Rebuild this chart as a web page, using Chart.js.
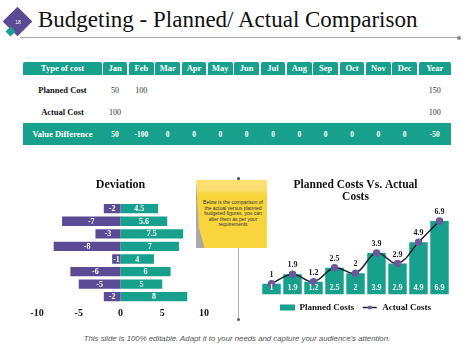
<!DOCTYPE html>
<html><head><meta charset="utf-8">
<script src="https://cdn.jsdelivr.net/npm/chart.js@4.4.1/dist/chart.umd.min.js"></script>
<style>
html,body{margin:0;padding:0;background:#fff;}
body{width:474px;height:355px;position:relative;overflow:hidden;font-family:"Liberation Serif",serif;}
.abs{position:absolute;}
.hc{position:absolute;top:62px;height:13px;line-height:13px;background:#17a08b;color:#fff;font-weight:bold;font-size:8.5px;text-align:center;border-radius:2px 2px 0 0;}
.cell{position:absolute;text-align:center;font-size:8px;color:#333;}
.lab{position:absolute;text-align:center;font-size:8.5px;font-weight:bold;color:#111;}
.wcell{position:absolute;text-align:center;font-size:7.5px;color:#fff;font-weight:bold;}
</style></head><body>

<div class="abs" style="left:7px;top:11px;width:21px;height:21px;background:#5b4a94;transform:rotate(45deg);"></div>
<div class="abs" style="left:7px;top:28px;width:7px;height:7px;background:#17a08b;transform:rotate(45deg);"></div>
<div class="abs" style="left:10px;top:19px;width:16px;text-align:center;font-family:'Liberation Sans',sans-serif;font-size:5px;color:#fff;">18</div>
<div class="abs" style="left:38px;top:8px;font-size:23px;line-height:23px;color:#111;white-space:nowrap;" id="ttl">Budgeting - Planned/ Actual Comparison</div>
<div class="abs" style="left:20px;top:37px;width:439px;height:1px;background:#a5a5a5;"></div>
<div class="abs" style="left:457px;top:35.5px;width:4px;height:4px;border-radius:50%;background:#888;"></div>

<div id="table"></div>

<div class="abs" style="left:238px;top:178px;width:1px;height:141px;background:#b0b0b0;"></div>
<div class="abs" style="left:236.5px;top:317.5px;width:3px;height:3px;border-radius:50%;background:#555;"></div>
<div class="abs" style="left:196px;top:185px;width:12px;height:63px;background:#a9a9a9;"></div>
<div class="abs" style="left:196px;top:180px;width:71px;height:68px;background:linear-gradient(#fbe071 0px,#fbe071 10px,#f8d43d 14px,#f8d43d 100%);clip-path:polygon(0 0,100% 0,100% 100%,12% 100%,4% 70%,0 0);"></div>
<div class="abs" style="left:198px;top:200px;width:70px;text-align:center;font-family:'Liberation Sans',sans-serif;font-size:5px;line-height:5.6px;color:#333;">Below is the comparison of<br>the actual versus planned<br>budgeted figures, you can<br>alter them as per your<br>requirements</div>
<div class="abs" style="left:236.5px;top:176.5px;width:3px;height:3px;border-radius:50%;background:#444;"></div>

<canvas id="dev" class="abs" width="207" height="157" style="left:17px;top:172px;"></canvas>
<canvas id="cost" class="abs" width="224" height="154" style="left:250px;top:172px;"></canvas>

<div class="abs" style="left:0;top:334px;width:474px;text-align:center;font-family:'Liberation Sans',sans-serif;font-style:italic;font-size:7.8px;color:#555;">This slide is 100% editable. Adapt it to your needs and capture your audience’s attention.</div>

<script>
const TEAL = '#17a08b';
const PURPLE = '#5b4a94';

// Table data
const tableHeader = 'Type of cost';
const months = ['Jan','Feb','Mar','Apr','May','Jun','Jul','Aug','Sep','Oct','Nov','Dec','Year'];
const plannedRow = [50,100,null,null,null,null,null,null,null,null,null,null,150];
const actualRow = [100,null,null,null,null,null,null,null,null,null,null,null,100];
const diffRow = [50,-100,0,0,0,0,0,0,0,0,0,0,-50];

// Deviation data
const devRows = ['R1','R2','R3','R4','R5','R6','R7','R8'];
const devNegative = [-2,-7,-3,-8,-1,-6,-5,-2];
const devPositive = [4.5,5.6,7.5,7,4,6,5,8];

// Planned vs actual
const costPeriods = ['1','2','3','4','5','6','7','8','9'];
const plannedCosts = [1,1.9,1.2,2.5,2,3.9,2.9,4.9,6.9];
const actualCosts = [1,1.9,1.2,2.5,2,3.9,2.9,4.9,6.9];

// build table
(function(){
  const t = document.getElementById('table');
  let h = '';
  h += `<div class="abs" style="left:23px;top:123px;width:428px;height:22px;background:${TEAL};"></div>`;
  h += `<div class="hc" style="left:23px;width:79px;">${tableHeader}</div>`;
  h += `<div class="lab" style="left:23px;width:79px;top:85px;">Planned Cost</div>`;
  h += `<div class="lab" style="left:23px;width:79px;top:107px;">Actual Cost</div>`;
  h += `<div class="wcell" style="left:23px;width:79px;top:129px;font-size:8.5px;">Value Difference</div>`;
  months.forEach((m,i)=>{
    const left = 102.7 + i*26.33;
    const w = i===12 ? 32 : 24.7;
    h += `<div class="hc" style="left:${left}px;width:${w}px;">${m}</div>`;
    if (plannedRow[i]!==null) h += `<div class="cell" style="left:${left}px;width:${w}px;top:85.5px;">${plannedRow[i]}</div>`;
    if (actualRow[i]!==null) h += `<div class="cell" style="left:${left}px;width:${w}px;top:107.5px;">${actualRow[i]}</div>`;
    h += `<div class="wcell" style="left:${left}px;width:${w}px;top:129.5px;">${diffRow[i]}</div>`;
  });
  t.innerHTML = h;
})();

Chart.defaults.font.family = '"Liberation Serif", serif';

const devLabels = {
  id:'devLabels',
  afterDatasetsDraw(chart){
    const ctx = chart.ctx;
    ctx.save();
    ctx.font = 'bold 8px "Liberation Serif", serif';
    ctx.fillStyle = '#fff';
    ctx.textAlign = 'center';
    ctx.textBaseline = 'middle';
    chart.data.datasets.forEach((ds,di)=>{
      chart.getDatasetMeta(di).data.forEach((bar,i)=>{
        ctx.fillText(String(ds.data[i]), (bar.x+bar.base)/2, bar.y+0.5);
      });
    });
    ctx.restore();
  }
};

new Chart(document.getElementById('dev'), {
  type:'bar',
  data:{labels:devRows, datasets:[
    {data:devNegative, backgroundColor:PURPLE, barPercentage:0.74, categoryPercentage:1},
    {data:devPositive, backgroundColor:TEAL, barPercentage:0.74, categoryPercentage:1}
  ]},
  options:{
    indexAxis:'y', responsive:false, animation:false,
    layout:{padding:{left:20,right:20,top:0,bottom:6}},
    plugins:{
      legend:{display:false}, tooltip:{enabled:false},
      title:{display:true,text:'Deviation',color:'#111',font:{size:12,weight:'bold'},padding:{top:6,bottom:10}}
    },
    scales:{
      x:{stacked:true,min:-10,max:10,ticks:{stepSize:5,color:'#111',font:{size:10,weight:'bold'},padding:4},grid:{display:false,drawTicks:false},border:{display:false}},
      y:{stacked:true,display:false}
    }
  },
  plugins:[devLabels]
});

const costLabels = {
  id:'costLabels',
  afterDatasetsDraw(chart){
    const ctx = chart.ctx;
    ctx.save();
    ctx.font = 'bold 8px "Liberation Serif", serif';
    ctx.textAlign = 'center';
    ctx.textBaseline = 'middle';
    const barMeta = chart.getDatasetMeta(0);
    ctx.fillStyle = '#fff';
    barMeta.data.forEach((b,i)=>{ ctx.fillText(String(plannedCosts[i]), b.x, b.base-7); });
    const lineMeta = chart.getDatasetMeta(1);
    ctx.fillStyle = '#222';
    lineMeta.data.forEach((p,i)=>{ ctx.fillText(String(actualCosts[i]), p.x, p.y-9); });
    ctx.restore();
  },
  afterDraw(chart){
    const lg = chart.legend;
    if (!lg || !lg.legendHitBoxes) return;
    const hb = lg.legendHitBoxes[1];
    if (!hb) return;
    const ctx = chart.ctx;
    const cy = hb.top + hb.height/2;
    ctx.save();
    ctx.strokeStyle = '#1e1e2c'; ctx.lineWidth = 1.5;
    ctx.beginPath(); ctx.moveTo(hb.left, cy); ctx.lineTo(hb.left+14, cy); ctx.stroke();
    ctx.fillStyle = '#6b5a9c';
    ctx.beginPath(); ctx.arc(hb.left+7, cy, 2, 0, Math.PI*2); ctx.fill();
    ctx.restore();
  }
};

new Chart(document.getElementById('cost'), {
  type:'bar',
  data:{labels:costPeriods, datasets:[
    {type:'bar', label:'Planned Costs', data:plannedCosts, backgroundColor:TEAL, barPercentage:0.88, categoryPercentage:1, order:2},
    {type:'line', label:'Actual Costs', data:actualCosts, borderColor:'#1e1e2c', borderWidth:1.5, tension:0.4,
     pointRadius:3, pointBackgroundColor:'#6b5a9c', pointBorderColor:'#6b5a9c', order:1}
  ]},
  options:{
    responsive:false, animation:false,
    layout:{padding:{left:11,right:24,top:0,bottom:4}},
    plugins:{
      tooltip:{enabled:false},
      title:{display:true,fullSize:false,text:['Planned Costs Vs. Actual','Costs'],color:'#111',font:{size:11.5,weight:'bold',lineHeight:1.05},padding:{top:7,bottom:6}},
      legend:{display:true,position:'bottom',fullSize:false,
        labels:{color:'#111',font:{size:9,weight:'bold'},boxWidth:15,boxHeight:6,padding:8.5,
          generateLabels(chart){
            return [
              {text:'Planned Costs', fillStyle:TEAL, strokeStyle:TEAL, lineWidth:0, datasetIndex:0, fontColor:'#111'},
              {text:'Actual Costs', fillStyle:'rgba(0,0,0,0)', strokeStyle:'rgba(0,0,0,0)', lineWidth:0, datasetIndex:1, fontColor:'#111'}
            ];
          }}}
    },
    scales:{x:{display:false}, y:{display:false,min:0,max:8}}
  },
  plugins:[costLabels]
});
</script>
</body></html>
